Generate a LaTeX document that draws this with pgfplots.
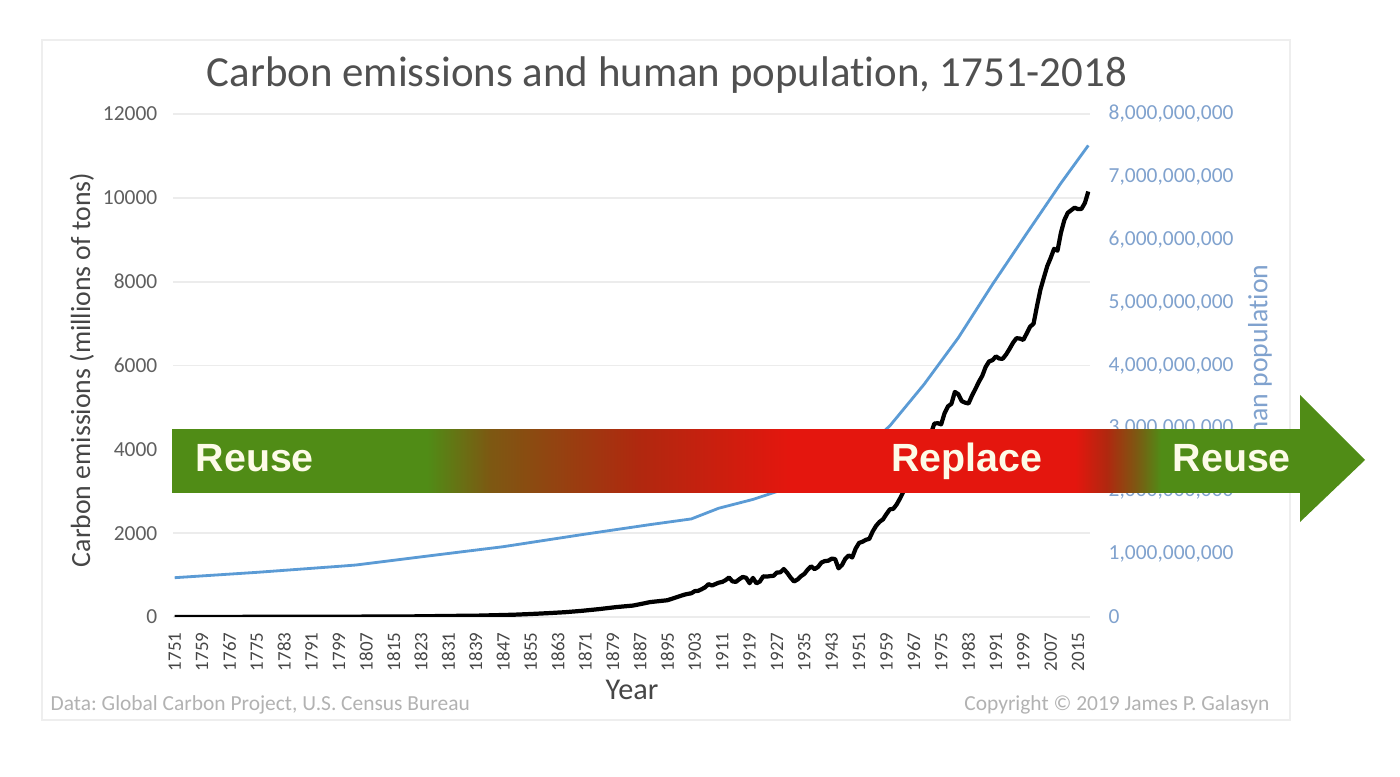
\documentclass[border=0pt]{standalone}
\usepackage{pgfplots}
\pgfplotsset{compat=1.18}
\usepackage{pgfplotstable}
\usepackage{fontspec}
\setmainfont{Carlito}[Ligatures={NoCommon}]
\newfontfamily\arrowfont{Liberation Sans}
\frenchspacing

\definecolor{gridgray}{RGB}{236,236,236}
\definecolor{panelgray}{RGB}{238,238,238}
\definecolor{ticktext}{RGB}{95,95,95}
\definecolor{labeltext}{RGB}{70,70,70}
\definecolor{titletext}{RGB}{80,80,80}
\definecolor{popblue}{RGB}{91,155,213}
\definecolor{poptext}{RGB}{128,162,206}
\definecolor{foot}{RGB}{178,178,178}
\definecolor{rgreen}{RGB}{80,140,22}
\definecolor{rbrown}{RGB}{125,88,18}
\definecolor{rdark}{RGB}{176,40,15}
\definecolor{rred}{RGB}{228,22,14}
\definecolor{arrowtext}{RGB}{253,251,232}

% green -> red -> green along the bar (bar spans 25bp..75bp of the shading)
\pgfdeclarehorizontalshading{cycleshade}{100bp}{%
  color(0bp)=(rgreen); color(36.3bp)=(rgreen); color(39.1bp)=(rbrown);
  color(45.7bp)=(rdark); color(52.4bp)=(rred); color(65bp)=(rred);
  color(66.4bp)=(rdark); color(67.7bp)=(rbrown); color(68.8bp)=(rgreen);
  color(100bp)=(rgreen)}

% Fossil carbon emissions, millions of tons
\pgfplotstableread{
year emis
1751 3
1760 3
1770 3
1780 5
1790 7
1800 8
1810 10
1820 14
1830 24
1840 33
1850 54
1855 71
1860 91
1865 114
1870 147
1875 188
1880 236
1885 273
1890 356
1895 400
1900 534
1901 552
1902 566
1903 617
1904 624
1905 663
1906 707
1907 784
1908 750
1909 785
1910 819
1911 836
1912 879
1913 943
1914 850
1915 838
1916 901
1917 955
1918 936
1919 806
1920 932
1921 803
1922 845
1923 970
1924 963
1925 975
1926 983
1927 1062
1928 1065
1929 1145
1930 1053
1931 940
1932 847
1933 893
1934 973
1935 1027
1936 1130
1937 1209
1938 1142
1939 1192
1940 1299
1941 1334
1942 1342
1943 1391
1944 1383
1945 1160
1946 1238
1947 1392
1948 1469
1949 1419
1950 1630
1951 1767
1952 1795
1953 1841
1954 1865
1955 2042
1956 2177
1957 2270
1958 2330
1959 2454
1960 2569
1961 2580
1962 2686
1963 2833
1964 2995
1965 3130
1966 3288
1967 3393
1968 3566
1969 3780
1970 4053
1971 4208
1972 4376
1973 4614
1974 4623
1975 4596
1976 4864
1977 5026
1978 5087
1979 5369
1980 5316
1981 5152
1982 5113
1983 5094
1984 5280
1985 5439
1986 5607
1987 5752
1988 5965
1989 6097
1990 6127
1991 6217
1992 6164
1993 6162
1994 6266
1995 6398
1996 6542
1997 6651
1998 6643
1999 6610
2000 6765
2001 6927
2002 6996
2003 7416
2004 7807
2005 8093
2006 8370
2007 8566
2008 8783
2009 8740
2010 9167
2011 9470
2012 9642
2013 9705
2014 9765
2015 9730
2016 9736
2017 9876
2018 10150
}\emissions

% World population, billions
\pgfplotstableread{
year pop
1751 0.625
1775 0.71
1800 0.81
1804 0.827
1825 0.97
1847 1.118
1870 1.31
1890 1.47
1902 1.56
1910 1.73
1920 1.87
1930 2.05
1940 2.30
1950 2.55
1960 3.04
1970 3.70
1980 4.44
1990 5.29
2000 6.10
2010 6.90
2018 7.50
}\population

\pgfplotsset{
  common/.style={
    scale only axis, width=9.17cm, height=5.03cm,
    at={(1.73cm,1.60cm)}, anchor=south west,
    xmin=1750.5, xmax=2018.5,
    axis line style={draw=none},
    major tick length=0pt,
    scaled ticks=false,
    ticklabel style={/pgf/number format/assume math mode=true,
                     /pgf/number format/1000 sep={}, inner sep=0pt},
  }
}

\begin{document}
\begin{tikzpicture}
\useasboundingbox (0,0) rectangle (14cm,7.77cm);
\fill[white] (0,0) rectangle (14cm,7.77cm);
\draw[panelgray, line width=0.6pt] (0.42cm,0.57cm) rectangle (12.90cm,7.37cm);

% emissions, left axis
\begin{axis}[common,
  ymin=0, ymax=12000,
  ytick={0,2000,...,12000},
  ymajorgrids, grid style={gridgray, line width=0.5pt},
  xtick={1751,1759,...,2015},
  xticklabel style={rotate=90, anchor=east, font=\fontsize{5.4}{6}\selectfont, color=labeltext},
  xticklabel shift=0.15cm,
  yticklabel style={anchor=east, font=\fontsize{6.1}{7}\selectfont, color=ticktext},
  yticklabel shift=0.15cm,
]
\addplot[black, line width=1.2pt, line join=round] table[x=year, y=emis] {\emissions};
\end{axis}

% population, right axis
\begin{axis}[common,
  ymin=0, ymax=8,
  axis y line*=right, hide x axis,
  ytick={0,1,...,8},
  yticklabels={0,{1,000,000,000},{2,000,000,000},{3,000,000,000},{4,000,000,000},{5,000,000,000},{6,000,000,000},{7,000,000,000},{8,000,000,000}},
  yticklabel style={anchor=west, font=\fontsize{6.1}{7}\selectfont, color=poptext},
  yticklabel shift=0.18cm,
]
\addplot[popblue, line width=0.8pt, line join=round] table[x=year, y=pop] {\population};
\end{axis}

% titles and notes
\node[color=titletext, font=\fontsize{12.2}{14}\selectfont] at (6.67cm,7.02cm)
  {Carbon emissions and human population, 1751-2018};
\node[color=labeltext, rotate=90, font=\fontsize{7.9}{9}\selectfont] at (0.82cm,4.07cm)
  {Carbon emissions (millions of tons)};
\node[color=poptext, rotate=90, font=\fontsize{7.9}{9}\selectfont] at (12.60cm,4.07cm)
  {Human population};
\node[color=labeltext, font=\fontsize{8.6}{10}\selectfont] at (6.32cm,0.87cm) {Year};
\node[color=foot, anchor=west, inner sep=0pt, font=\fontsize{6.1}{7}\selectfont] at (0.50cm,0.72cm)
  {Data: Global Carbon Project, U.S. Census Bureau};
\node[color=foot, anchor=east, inner sep=0pt, font=\fontsize{6.1}{7}\selectfont] at (12.70cm,0.72cm)
  {Copyright \textcopyright{} 2019 James P. Galasyn};

% reuse / replace arrow
\shade[shading=cycleshade] (1.72cm,2.84cm) rectangle (13.01cm,3.47cm);
\fill[rgreen] (13.00cm,3.82cm) -- (13.65cm,3.17cm) -- (13.00cm,2.55cm) -- cycle;
\begin{scope}[every node/.style={color=arrowtext, inner sep=0pt,
    font=\arrowfont\bfseries\fontsize{11.2}{13}\selectfont}]
  \node[anchor=base west] at (1.95cm,3.05cm) {Reuse};
  \node[anchor=base] at (9.67cm,3.05cm) {Replace};
  \node[anchor=base west] at (11.72cm,3.05cm) {Reuse};
\end{scope}
\end{tikzpicture}
\end{document}
